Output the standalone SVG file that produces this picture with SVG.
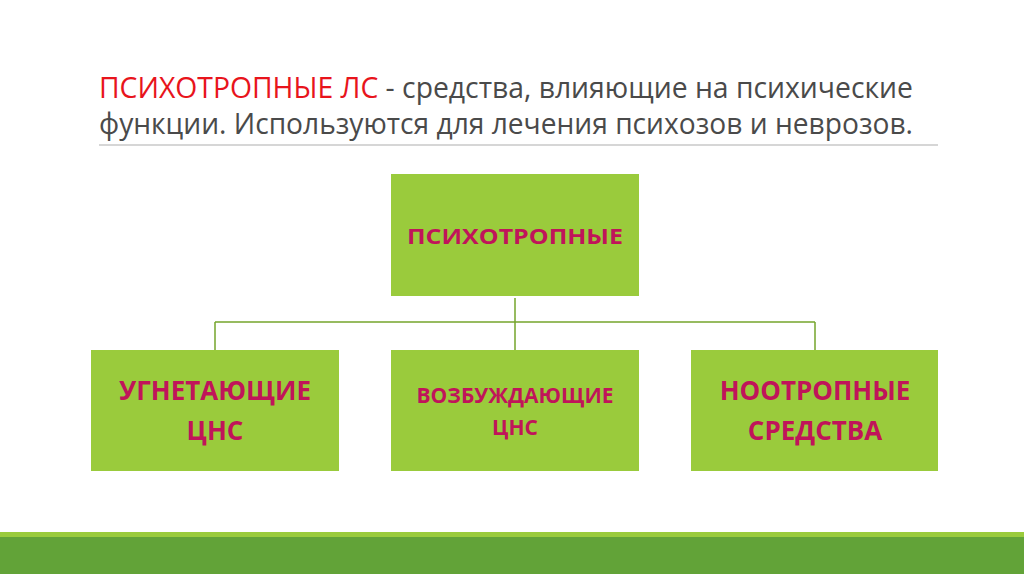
<svg xmlns="http://www.w3.org/2000/svg" width="1024" height="574" viewBox="0 0 1024 574">
<style>
.box{fill:#9acb3c}
.lbl{font-family:"Open Sans","Liberation Sans",sans-serif;font-weight:bold;fill:#c0145a;text-anchor:middle}
.t{font-family:"Open Sans","Liberation Sans",sans-serif;font-size:29px;fill:#4a4a4a}
.c{stroke:#76a52c;stroke-width:1.5;fill:none}
</style>
<rect width="1024" height="574" fill="#fff"/>
<text class="t" x="99" y="98" textLength="814" lengthAdjust="spacingAndGlyphs"><tspan fill="#e8141c">ПСИХОТРОПНЫЕ ЛС</tspan> -  средства, влияющие на психические</text>
<text class="t" x="99" y="134" textLength="814" lengthAdjust="spacingAndGlyphs">функции. Используются для лечения психозов и неврозов.</text>
<line x1="99" y1="145" x2="938" y2="145" stroke="#c8c8c8" stroke-width="1.5"/>
<g id="connectors">
<path class="c" d="M515 298V350M215 322H815M215 322V350M815 322V350"/>
</g>
<g id="n0"><rect class="box" x="391" y="174" width="248" height="122"/><text class="lbl" x="515" y="244" font-size="21" textLength="216" lengthAdjust="spacingAndGlyphs">ПСИХОТРОПНЫЕ</text></g>
<g id="n1"><rect class="box" x="91" y="350" width="248" height="121"/><text class="lbl" x="215" y="400" font-size="26">УГНЕТАЮЩИЕ</text><text class="lbl" x="215" y="440" font-size="26">ЦНС</text></g>
<g id="n2"><rect class="box" x="391" y="350" width="248" height="121"/><text class="lbl" x="515" y="403" font-size="21">ВОЗБУЖДАЮЩИЕ</text><text class="lbl" x="515" y="435" font-size="21">ЦНС</text></g>
<g id="n3"><rect class="box" x="691" y="350" width="247" height="121"/><text class="lbl" x="815" y="400" font-size="26">НООТРОПНЫЕ</text><text class="lbl" x="815" y="440" font-size="26">СРЕДСТВА</text></g>
<rect x="0" y="532" width="1024" height="6" fill="#9acb3c"/>
<rect x="0" y="537" width="1024" height="37" fill="#62a338"/>
</svg>
